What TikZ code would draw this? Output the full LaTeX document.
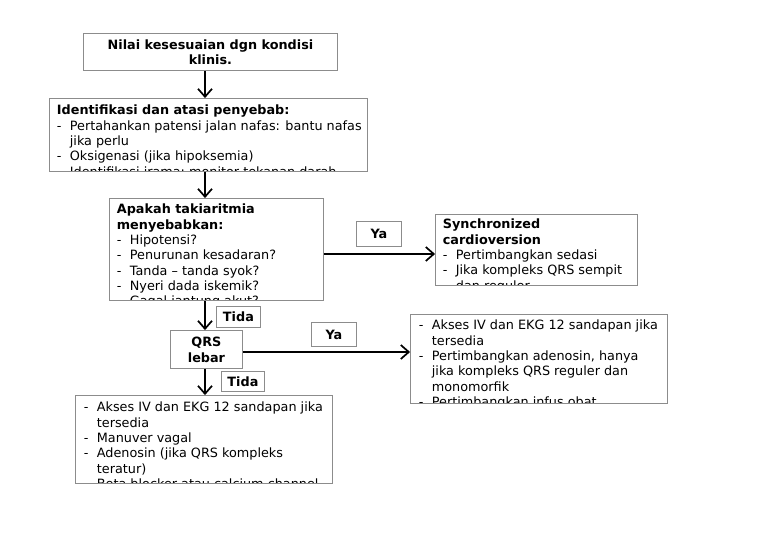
\documentclass[tikz,border=0pt]{standalone}
\usepackage{fontspec}
\setmainfont{DejaVu Sans}
\usetikzlibrary{arrows.meta}
\newcommand{\dsh}{\makebox[13pt][l]{-}}
\newcommand{\ind}{\hspace*{13pt}}
\tikzset{
  box/.style={draw=black!45, line width=0.9pt, fill=white, inner sep=0pt, anchor=north west},
  txt/.style={anchor=north west, inner sep=0pt, minimum width=0pt, minimum height=0pt, draw=none, fill=none, align=left, font=\fontsize{12.8}{15.3}\selectfont},
  lbl/.style={box, align=center, font=\fontsize{12.8}{15}\selectfont\bfseries},
  arr/.style={line width=1.4pt, -{Straight Barb[length=8pt,width=14pt,line width=1.6pt]}},
  sarr/.style={arr, draw=black!35}
}
\begin{document}
\begin{tikzpicture}[x=1pt,y=1pt]
\useasboundingbox (0,0) rectangle (768,-543);
\coordinate (col) at (205,0);
\coordinate (r1) at (0,-254);
\coordinate (r2) at (0,-352);

% boxes
\node[lbl, minimum width=254pt, minimum height=37pt] (b1) at (83,-33) {Nilai kesesuaian dgn kondisi\\klinis.};
\node[box, minimum width=318pt, minimum height=73pt, path picture={
  \node[txt] (tb2) at ([shift={(7,-5.3)}]path picture bounding box.north west) {\strut\textbf{Identifikasi dan atasi penyebab:}\\
\dsh Pertahankan patensi jalan nafas: bantu nafas\\
\ind jika perlu\\
\dsh Oksigenasi (jika hipoksemia)\\
\dsh Identifikasi irama; monitor tekanan darah};}] (b2) at (49,-98) {};
\node[box, minimum width=214pt, minimum height=102pt, path picture={
  \node[txt] (tb3) at ([shift={(7,-4.3)}]path picture bounding box.north west) {\strut\textbf{Apakah takiaritmia}\\
\textbf{menyebabkan:}\\
\dsh Hipotensi?\\
\dsh Penurunan kesadaran?\\
\dsh Tanda -- tanda syok?\\
\dsh Nyeri dada iskemik?\\
\dsh Gagal jantung akut?};}] (b3) at (109,-198) {};
\node[box, minimum width=202pt, minimum height=71pt, path picture={
  \node[txt] (tb4) at ([shift={(7,-3.3)}]path picture bounding box.north west) {\strut\textbf{Synchronized}\\
\textbf{cardioversion}\\
\dsh Pertimbangkan sedasi\\
\dsh Jika kompleks QRS sempit\\
\ind dan reguler};}] (b4) at (435,-214) {};
\node[lbl, minimum width=72pt, minimum height=38pt, font=\fontsize{12.8}{16}\selectfont\bfseries] (q) at (170,-330) {QRS\\lebar};
\node[box, minimum width=257pt, minimum height=89pt, path picture={
  \node[txt] (tb5) at ([shift={(8,-4.3)}]path picture bounding box.north west) {\strut\dsh Akses IV dan EKG 12 sandapan jika\\
\ind tersedia\\
\dsh Pertimbangkan adenosin, hanya\\
\ind jika kompleks QRS reguler dan\\
\ind monomorfik\\
\dsh Pertimbangkan infus obat};}] (b5) at (410,-314) {};
\node[box, minimum width=257pt, minimum height=88pt, path picture={
  \node[txt] (tb6) at ([shift={(8,-5.3)}]path picture bounding box.north west) {\strut\dsh Akses IV dan EKG 12 sandapan jika\\
\ind tersedia\\
\dsh Manuver vagal\\
\dsh Adenosin (jika QRS kompleks\\
\ind teratur)\\
\dsh Beta blocker atau calcium channel};}] (b6) at (75,-395) {};

% labels
\node[lbl, minimum width=45pt, minimum height=25pt] (ya1) at (356,-221) {Ya};
\node[lbl, minimum width=45pt, minimum height=24pt] (ya2) at (311,-322) {Ya};
\node[lbl, minimum width=44pt, minimum height=21pt] (t1) at (216,-306) {Tida};
\node[lbl, minimum width=43pt, minimum height=20pt] (t2) at (221,-371) {Tida};

% arrows (shadow then main)
\begin{scope}[shift={(4,-2)}]
\draw[sarr] (b1.south -| col) -- (b2.north -| col);
\draw[sarr] (b2.south -| col) -- (b3.north -| col);
\draw[sarr] (b3.south -| col) -- (q.north -| col);
\draw[sarr] (q.south -| col) -- (b6.north -| col);
\end{scope}
\begin{scope}[shift={(3,-2)}]
\draw[sarr] (b3.east |- r1) -- (b4.west |- r1);
\draw[sarr] (q.east |- r2) -- (b5.west |- r2);
\end{scope}
\draw[arr] (b1.south -| col) -- (b2.north -| col);
\draw[arr] (b2.south -| col) -- (b3.north -| col);
\draw[arr] (b3.south -| col) -- (q.north -| col);
\draw[arr] (q.south -| col) -- (b6.north -| col);
\draw[arr] (b3.east |- r1) -- (b4.west |- r1);
\draw[arr] (q.east |- r2) -- (b5.west |- r2);
\end{tikzpicture}
\end{document}
